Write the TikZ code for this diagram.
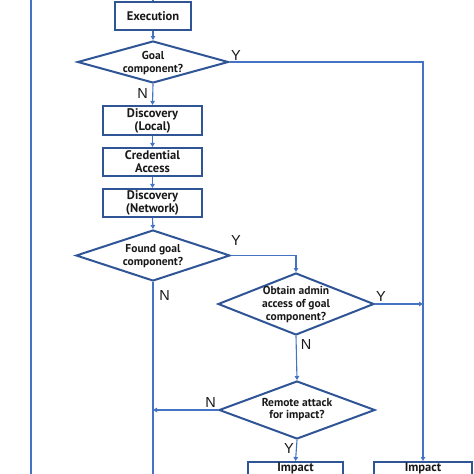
\documentclass[tikz,border=0pt]{standalone}
\usepackage{fontspec}
\setmainfont{PT Sans}
\newfontfamily\labfont{Liberation Sans}
\usetikzlibrary{arrows.meta,shapes.geometric}
\definecolor{boxblue}{RGB}{47,85,151}
\definecolor{lineblue}{RGB}{68,114,196}
\definecolor{txt}{RGB}{25,25,25}
\begin{document}
\begin{tikzpicture}[x=1pt,y=-1pt,
 boxst/.style={draw=boxblue, line width=2.2pt, fill=white, inner sep=0pt, text=txt, font=\fontsize{12.5}{13}\selectfont\bfseries, align=center},
 diast/.style={diamond, draw=boxblue, line width=2pt, inner sep=0pt, fill=white},
 dtext/.style={inner sep=0pt, text=txt, font=\fontsize{11.5}{12.8}\selectfont\bfseries, align=center},
 btext/.style={inner sep=0pt, text=txt, font=\fontsize{12.5}{13}\selectfont\bfseries, align=center},
 conn/.style={draw=lineblue, line width=1.1pt},
 arr/.style={conn, -{Triangle[length=4pt,width=4.5pt]}},
 yn/.style={inner sep=0pt, font=\labfont\fontsize{14.5}{14.5}\selectfont, text=txt}
]
\useasboundingbox[fill=white] (0,0) rectangle (474,474);

% boxes
\node[boxst, minimum width=76pt, minimum height=28pt] (exec) at (153,16) {Execution};
\node[diast, minimum width=151pt, minimum height=42pt] (goal) at (153,62) {};
\node[dtext] (goalt) at (153,63) {Goal\\component?};
\node[boxst, minimum width=99pt, minimum height=29pt] (discl) at (152.5,120.5) {Discovery\\(Local)};
\node[boxst, minimum width=99pt, minimum height=28pt] (cred) at (152.5,162) {Credential\\Access};
\node[boxst, minimum width=99pt, minimum height=28pt] (discn) at (152.5,203) {Discovery\\(Network)};
\node[diast, minimum width=154pt, minimum height=51pt] (found) at (153,255.5) {};
\node[dtext] (foundt) at (153,256.5) {Found goal\\component?};
\node[diast, minimum width=156pt, minimum height=62pt] (admin) at (296,304) {};
\node[dtext] (admint) at (296,304.5) {Obtain admin\\access of goal\\component?};
\node[diast, minimum width=156pt, minimum height=58pt] (remote) at (297,410) {};
\node[dtext] (remotet) at (297,409.5) {Remote attack\\for impact?};
\node[boxst, minimum width=95pt, minimum height=30pt, anchor=north] (imp1) at (295.5,461) {};
\node[btext] (imp1t) at (295.5,468) {Impact};
\node[boxst, minimum width=98pt, minimum height=30pt, anchor=north] (imp2) at (423,461) {};
\node[btext] (imp2t) at (423,468) {Impact};

% free ends
\coordinate (lefttop) at (31,0);
\coordinate (leftbot) at (31,474);
\coordinate (exectop) at (153,0);
\coordinate (rightcorner) at (423,62);
\coordinate (foundcorner) at (296,255.5);
\coordinate (foundbot) at (153,474);
\coordinate (rightline) at (423,304);
\coordinate (leftjoin) at (153,410);

% connectors
\draw[conn] (lefttop) -- (leftbot);
\draw[conn] (exectop) -- (exec.north);
\draw[arr] (exec.south) -- (goal.north);
\draw[arr] (goal.south) -- (discl.north);
\draw[arr] (goal.east) -- (rightcorner) -- (imp2.north);
\draw[arr] (discl.south) -- (cred.north);
\draw[arr] (cred.south) -- (discn.north);
\draw[arr] (discn.south) -- (found.north);
\draw[arr] (found.east) -- (foundcorner) -- (admin.north);
\draw[conn] (found.south) -- (foundbot);
\draw[arr] (admin.east) -- (rightline);
\draw[arr] (admin.south) -- (remote.north);
\draw[arr] (remote.west) -- (leftjoin);
\draw[arr] (remote.south) -- (imp1.north);

% labels
\node[yn] (ly1) at (236,55.5) {Y};
\node[yn] (ln1) at (142.5,93.5) {N};
\node[yn] (ly2) at (236,240.5) {Y};
\node[yn] (ln2) at (164.5,295.5) {N};
\node[yn] (ly3) at (381,296.5) {Y};
\node[yn] (ln3) at (306,344.5) {N};
\node[yn] (ln4) at (210.5,402.5) {N};
\node[yn] (ly4) at (289,448.5) {Y};
\end{tikzpicture}
\end{document}
